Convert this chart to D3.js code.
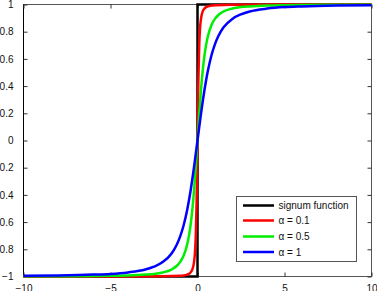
<!DOCTYPE html>
<html><head><meta charset="utf-8">
<script src="https://cdn.jsdelivr.net/npm/d3@7"></script>
<style>body{margin:0;background:#fff}svg{display:block}text{font-family:"Liberation Sans",Arial,Helvetica,sans-serif}</style>
</head><body>
<svg id="c" width="377" height="291"></svg>
<script>
const xTicks = [-10, -5, 0, 5, 10];
const xTickLabels = ["\u221210", "\u22125", "0", "5", "10"];
const yTicks = [-1, -0.8, -0.6, -0.4, -0.2, 0, 0.2, 0.4, 0.6, 0.8, 1];
const yTickLabels = ["\u22121", "\u22120.8", "\u22120.6", "\u22120.4", "\u22120.2", "0", "0.2", "0.4", "0.6", "0.8", "1"];
const seriesNames = ["signum function", "\u03b1 = 0.1", "\u03b1 = 0.5", "\u03b1 = 1"];
const seriesColors = ["#000000", "#ff0000", "#00ee00", "#0000ff"];

const signumX = [-10, 0, 0, 10];
const signumY = [-1, -1, 1, 1];

const redX = [-10, -5, -2, -1, -0.8, -0.6, -0.5, -0.4, -0.3, -0.2, -0.15, -0.1, -0.05, 0, 0.05, 0.1, 0.15, 0.2, 0.3, 0.4, 0.5, 0.6, 0.8, 1, 2, 5, 10];
const redY = [-1.0, -0.9998, -0.9988, -0.995, -0.992, -0.986, -0.981, -0.970, -0.949, -0.894, -0.832, -0.707, -0.447, 0, 0.447, 0.707, 0.832, 0.894, 0.949, 0.970, 0.981, 0.986, 0.992, 0.995, 0.9988, 0.9998, 1.0];

const smoothX = [-10, -8, -6, -5, -4, -3, -2.5, -2, -1.5, -1.2, -1, -0.8, -0.6, -0.5, -0.4, -0.3, -0.2, -0.1, 0, 0.1, 0.2, 0.3, 0.4, 0.5, 0.6, 0.8, 1, 1.2, 1.5, 2, 2.5, 3, 4, 5, 6, 8, 10];
const greenY = [-0.999, -0.998, -0.997, -0.995, -0.992, -0.986, -0.981, -0.970, -0.949, -0.923, -0.894, -0.848, -0.768, -0.707, -0.625, -0.514, -0.371, -0.196, 0, 0.196, 0.371, 0.514, 0.625, 0.707, 0.768, 0.848, 0.894, 0.923, 0.949, 0.970, 0.981, 0.986, 0.992, 0.995, 0.997, 0.998, 0.999];
const blueY = [-0.995, -0.992, -0.986, -0.981, -0.970, -0.949, -0.928, -0.894, -0.832, -0.768, -0.707, -0.625, -0.514, -0.447, -0.371, -0.287, -0.196, -0.0995, 0, 0.0995, 0.196, 0.287, 0.371, 0.447, 0.514, 0.625, 0.707, 0.768, 0.832, 0.894, 0.928, 0.949, 0.970, 0.981, 0.986, 0.992, 0.995];

const svg = d3.select("#c");
const x = d3.scaleLinear().domain([-10, 10]).range([23.5, 371.5]);
const y = d3.scaleLinear().domain([-1, 1]).range([276.5, 4.5]);

// axes box
const axisCol = "#555";
svg.append("rect").attr("x", x(-10)).attr("y", y(1)).attr("width", x(10) - x(-10)).attr("height", y(-1) - y(1))
  .attr("fill", "#fff").attr("stroke", axisCol).attr("stroke-width", 1);
svg.append("line").attr("x1", x(-10)).attr("x2", x(-10)).attr("y1", y(1)).attr("y2", y(-1)).attr("stroke", "#000");

// ticks inward
const tl = 4;
const xAxisB = d3.axisBottom(x).tickValues(xTicks).tickSizeInner(-tl).tickSizeOuter(0).tickPadding(tl + 4)
  .tickFormat((d, i) => xTickLabels[i]);
const gxb = svg.append("g").attr("transform", `translate(0,${y(-1)})`).call(xAxisB);
const xAxisT = d3.axisTop(x).tickValues(xTicks).tickSizeInner(-tl).tickSizeOuter(0).tickFormat("");
const gxt = svg.append("g").attr("transform", `translate(0,${y(1)})`).call(xAxisT);
const yAxisL = d3.axisLeft(y).tickValues(yTicks).tickSizeInner(-tl).tickSizeOuter(0).tickPadding(tl + 6)
  .tickFormat((d, i) => yTickLabels[i]);
const gyl = svg.append("g").attr("transform", `translate(${x(-10)},0)`).call(yAxisL);
const yAxisR = d3.axisRight(y).tickValues(yTicks).tickSizeInner(-tl).tickSizeOuter(0).tickFormat("");
const gyr = svg.append("g").attr("transform", `translate(${x(10)},0)`).call(yAxisR);
[gxb, gxt, gyl, gyr].forEach(g => {
  g.select(".domain").remove();
  g.selectAll(".tick line").attr("stroke", "#333");
  g.selectAll("text").attr("font-size", 10).attr("fill", "#111")
    .attr("font-family", '"Liberation Sans",Arial,Helvetica,sans-serif');
});

// series
const lineLin = d3.line().x(d => x(d[0])).y(d => y(d[1]));
const lineSm = d3.line().x(d => x(d[0])).y(d => y(d[1])).curve(d3.curveMonotoneX);
const sw = 2.5;
svg.append("path").datum(d3.zip(signumX, signumY)).attr("d", lineLin).attr("fill", "none")
  .attr("stroke", seriesColors[0]).attr("stroke-width", sw);
svg.append("path").datum(d3.zip(redX, redY)).attr("d", lineSm).attr("fill", "none")
  .attr("stroke", seriesColors[1]).attr("stroke-width", sw);
svg.append("path").datum(d3.zip(smoothX, greenY)).attr("d", lineSm).attr("fill", "none")
  .attr("stroke", seriesColors[2]).attr("stroke-width", sw);
svg.append("path").datum(d3.zip(smoothX, blueY)).attr("d", lineSm).attr("fill", "none")
  .attr("stroke", seriesColors[3]).attr("stroke-width", sw);

// legend
const lg = svg.append("g");
lg.append("rect").attr("x", 236.5).attr("y", 196.5).attr("width", 120).attr("height", 65)
  .attr("fill", "#fff").attr("stroke", "#555").attr("stroke-width", 1);
const rowY = [205.5, 220.5, 236.5, 252];
seriesNames.forEach((n, i) => {
  lg.append("line").attr("x1", 243).attr("x2", 274).attr("y1", rowY[i]).attr("y2", rowY[i])
    .attr("stroke", seriesColors[i]).attr("stroke-width", sw);
  lg.append("text").attr("x", 278.5).attr("y", rowY[i]).attr("dy", "0.35em").attr("font-size", 10)
    .attr("fill", "#111").text(n);
});
</script>
</body></html>
